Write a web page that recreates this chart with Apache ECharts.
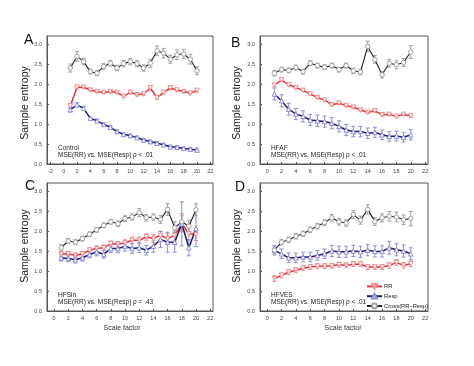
<!DOCTYPE html>
<html lang="en" style="height: 100%">
<head>
  <meta charset="utf-8">
</head>
<body style="height: 100%; margin: 0; background-color:#ffffff;">
  <div id="container" style="width: 474px; height: 366px"></div>

<script src="https://fastly.jsdelivr.net/npm/echarts@6/dist/echarts.min.js"></script>

<script>
  var dom = document.getElementById('container');
  var myChart = echarts.init(dom);

  // scale factors 1..20
  var scales = [1, 2, 3, 4, 5, 6, 7, 8, 9, 10, 11, 12, 13, 14, 15, 16, 17, 18, 19, 20];
  var xTicks = [0, 2, 4, 6, 8, 10, 12, 14, 16, 18, 20, 22];
  var xTicksA = [-2, 0, 2, 4, 6, 8, 10, 12, 14, 16, 18, 20, 22];
  var yTicks = [0, 0.5, 1.0, 1.5, 2.0, 2.5, 3.0];
  var seriesNames = ['RR', 'Resp', 'Cross(RR\u2013Resp)'];
  var panelLetters = ['A', 'B', 'C', 'D'];
  var groupNames = ['Control', 'HFAF', 'HFSin', 'HFVES'];
  var pTexts = ['< .01', '< .01', '= .43', '< .01'];

  // A - Control
  var rrA = [1.45, 1.92, 1.92, 1.85, 1.81, 1.79, 1.81, 1.79, 1.69, 1.79, 1.73, 1.75, 1.90, 1.66, 1.79, 1.90, 1.85, 1.81, 1.77, 1.84];
  var respA = [1.36, 1.48, 1.39, 1.14, 1.08, 0.99, 0.92, 0.81, 0.74, 0.71, 0.66, 0.60, 0.56, 0.52, 0.48, 0.43, 0.42, 0.39, 0.37, 0.35];
  var crossA = [2.40, 2.69, 2.56, 2.31, 2.27, 2.44, 2.52, 2.40, 2.51, 2.56, 2.51, 2.40, 2.52, 2.83, 2.77, 2.62, 2.73, 2.75, 2.62, 2.33];
  var rrErrA = [0.06, 0.04, 0.04, 0.03, 0.03, 0.03, 0.03, 0.03, 0.03, 0.03, 0.03, 0.04, 0.06, 0.04, 0.04, 0.05, 0.04, 0.04, 0.04, 0.04];
  var respErrA = [0.06, 0.05, 0.05, 0.04, 0.04, 0.04, 0.04, 0.04, 0.04, 0.04, 0.04, 0.04, 0.04, 0.04, 0.04, 0.04, 0.04, 0.04, 0.04, 0.05];
  var crossErrA = [0.1, 0.12, 0.08, 0.06, 0.06, 0.07, 0.07, 0.07, 0.08, 0.08, 0.07, 0.08, 0.1, 0.12, 0.12, 0.1, 0.12, 0.12, 0.12, 0.1];

  // B - HFAF
  var rrB = [1.97, 2.10, 1.98, 1.91, 1.84, 1.75, 1.66, 1.60, 1.48, 1.52, 1.46, 1.42, 1.35, 1.29, 1.33, 1.23, 1.24, 1.19, 1.24, 1.20];
  var respB = [1.75, 1.58, 1.37, 1.25, 1.19, 1.10, 1.08, 1.06, 1.02, 0.94, 0.85, 0.81, 0.81, 0.77, 0.79, 0.73, 0.69, 0.70, 0.67, 0.73];
  var crossB = [2.27, 2.36, 2.34, 2.41, 2.31, 2.52, 2.46, 2.42, 2.46, 2.36, 2.46, 2.33, 2.30, 2.94, 2.61, 2.23, 2.52, 2.48, 2.54, 2.80];
  var rrErrB = [0.04, 0.03, 0.03, 0.03, 0.03, 0.03, 0.03, 0.03, 0.03, 0.03, 0.03, 0.03, 0.03, 0.03, 0.03, 0.03, 0.03, 0.03, 0.03, 0.04];
  var respErrB = [0.15, 0.15, 0.15, 0.14, 0.14, 0.14, 0.14, 0.14, 0.14, 0.14, 0.14, 0.13, 0.13, 0.13, 0.13, 0.12, 0.12, 0.12, 0.12, 0.13];
  var crossErrB = [0.07, 0.06, 0.06, 0.06, 0.06, 0.06, 0.06, 0.06, 0.06, 0.06, 0.06, 0.07, 0.07, 0.13, 0.1, 0.08, 0.1, 0.1, 0.1, 0.16];

  // C - HFSin
  var rrC = [1.42, 1.43, 1.39, 1.43, 1.52, 1.56, 1.58, 1.68, 1.67, 1.70, 1.77, 1.77, 1.85, 1.81, 1.89, 1.81, 1.89, 2.18, 1.93, 1.91];
  var respC = [1.33, 1.31, 1.28, 1.33, 1.41, 1.48, 1.42, 1.56, 1.56, 1.62, 1.56, 1.58, 1.52, 1.62, 1.79, 1.72, 1.72, 2.18, 1.58, 2.06];
  var crossC = [1.58, 1.75, 1.72, 1.81, 1.92, 2.03, 2.14, 2.23, 2.18, 2.31, 2.35, 2.46, 2.33, 2.35, 2.29, 2.54, 2.08, 2.23, 2.12, 2.53];
  var rrErrC = [0.06, 0.06, 0.06, 0.06, 0.06, 0.07, 0.07, 0.07, 0.07, 0.08, 0.08, 0.08, 0.08, 0.1, 0.1, 0.12, 0.12, 0.2, 0.15, 0.15];
  var respErrC = [0.08, 0.08, 0.08, 0.08, 0.08, 0.1, 0.1, 0.1, 0.1, 0.12, 0.12, 0.12, 0.12, 0.15, 0.2, 0.25, 0.25, 0.55, 0.2, 0.45];
  var crossErrC = [0.08, 0.06, 0.06, 0.06, 0.06, 0.06, 0.06, 0.06, 0.07, 0.07, 0.08, 0.1, 0.08, 0.08, 0.1, 0.15, 0.15, 0.2, 0.15, 0.15];

  // D - HFVES
  var rrD = [0.81, 0.89, 0.97, 1.02, 1.07, 1.10, 1.12, 1.12, 1.13, 1.16, 1.14, 1.17, 1.17, 1.10, 1.10, 1.10, 1.14, 1.21, 1.14, 1.18];
  var respD = [1.52, 1.43, 1.33, 1.33, 1.35, 1.35, 1.39, 1.43, 1.50, 1.48, 1.48, 1.50, 1.48, 1.52, 1.49, 1.49, 1.58, 1.53, 1.50, 1.43];
  var crossD = [1.52, 1.72, 1.78, 1.87, 1.93, 2.03, 2.12, 2.21, 2.33, 2.23, 2.20, 2.41, 2.27, 2.54, 2.24, 2.33, 2.37, 2.35, 2.28, 2.31];
  var rrErrD = [0.07, 0.06, 0.06, 0.06, 0.06, 0.06, 0.06, 0.06, 0.06, 0.06, 0.06, 0.06, 0.06, 0.06, 0.06, 0.06, 0.07, 0.07, 0.07, 0.07];
  var respErrD = [0.12, 0.12, 0.12, 0.12, 0.12, 0.12, 0.12, 0.12, 0.14, 0.14, 0.14, 0.14, 0.14, 0.14, 0.14, 0.14, 0.16, 0.15, 0.15, 0.15];
  var crossErrD = [0.08, 0.07, 0.07, 0.07, 0.07, 0.07, 0.07, 0.07, 0.08, 0.08, 0.08, 0.1, 0.1, 0.12, 0.1, 0.1, 0.12, 0.12, 0.12, 0.18];

  var panels = [
    { rr: rrA, resp: respA, cross: crossA, rrErr: rrErrA, respErr: respErrA, crossErr: crossErrA },
    { rr: rrB, resp: respB, cross: crossB, rrErr: rrErrB, respErr: respErrB, crossErr: crossErrB },
    { rr: rrC, resp: respC, cross: crossC, rrErr: rrErrC, respErr: respErrC, crossErr: crossErrC },
    { rr: rrD, resp: respD, cross: crossD, rrErr: rrErrD, respErr: respErrD, crossErr: crossErrD }
  ];

  var grids = [
    { left: 47, top: 36, width: 166, height: 128 },
    { left: 260, top: 36, width: 168, height: 128 },
    { left: 47, top: 183, width: 166, height: 128 },
    { left: 260, top: 183, width: 168, height: 128 }
  ];

  var lineColors = ['#e8323c', '#1c1c6e', '#222222'];
  var markColors = ['#f08c90', '#8c8ce0', '#a0a0a0'];
  var symbols = ['path://M0,0 L10,0 L5,9 Z', 'triangle', 'circle'];
  var font = 'Liberation Sans';

  function errSeries(idx, vals, errs, color) {
    return {
      type: 'custom',
      xAxisIndex: idx,
      yAxisIndex: idx,
      z: 1,
      silent: true,
      data: scales.map(function (x, k) { return [x, vals[k] - errs[k], vals[k] + errs[k]]; }),
      renderItem: function (params, api) {
        var lo = api.coord([api.value(0), api.value(1)]);
        var hi = api.coord([api.value(0), api.value(2)]);
        var w = 2;
        var st = { stroke: color, lineWidth: 1 };
        return {
          type: 'group',
          children: [
            { type: 'line', shape: { x1: lo[0], y1: lo[1], x2: hi[0], y2: hi[1] }, style: st },
            { type: 'line', shape: { x1: lo[0] - w, y1: lo[1], x2: lo[0] + w, y2: lo[1] }, style: st },
            { type: 'line', shape: { x1: hi[0] - w, y1: hi[1], x2: hi[0] + w, y2: hi[1] }, style: st }
          ]
        };
      }
    };
  }

  var series = [];
  panels.forEach(function (p, i) {
    var vals = [p.rr, p.resp, p.cross];
    var errs = [p.rrErr, p.respErr, p.crossErr];
    for (var s = 0; s < 3; s++) {
      series.push(errSeries(i, vals[s], errs[s], markColors[s]));
    }
    for (var s2 = 0; s2 < 3; s2++) {
      series.push({
        name: seriesNames[s2],
        type: 'line',
        xAxisIndex: i,
        yAxisIndex: i,
        z: 3,
        symbol: symbols[s2],
        symbolSize: 4.5,
        showAllSymbol: true,
        lineStyle: { color: lineColors[s2], width: s2 === 2 ? 1.1 : 1.5 },
        itemStyle: { color: '#ffffff', borderColor: markColors[s2], borderWidth: 1 },
        data: scales.map(function (x, k) { return [x, vals[s2][k]]; })
      });
    }
  });

  var xAxes = grids.map(function (g, i) {
    var ticks = i === 0 ? xTicksA : xTicks;
    return {
      type: 'value',
      gridIndex: i,
      min: i === 0 ? -2.5 : -1,
      max: 22.4,
      axisLine: { onZero: false, lineStyle: { color: '#555' } },
      axisTick: { customValues: ticks, inside: true, length: 2, lineStyle: { color: '#555' } },
      axisLabel: { customValues: ticks, fontSize: 5.5, color: '#444', margin: 4, fontFamily: font },
      splitLine: { show: false }
    };
  });

  var yAxes = grids.map(function (g, i) {
    return {
      type: 'value',
      gridIndex: i,
      min: 0,
      max: 3.2,
      axisLine: { onZero: false, lineStyle: { color: '#555' } },
      axisTick: { customValues: yTicks, inside: true, length: 2, lineStyle: { color: '#555' } },
      axisLabel: {
        customValues: yTicks, fontSize: 5.5, color: '#444', margin: 5, fontFamily: font,
        formatter: function (v) { return v.toFixed(1); }
      },
      splitLine: { show: false }
    };
  });

  var graphics = [];
  var letterPos = [[29, 40], [236, 43], [30, 186], [240, 187]];
  var ylabPos = [[25, 103], [237, 103], [25, 246], [237, 246]];
  grids.forEach(function (g, i) {
    graphics.push({
      type: 'text', left: letterPos[i][0] - 5, top: letterPos[i][1] - 7,
      style: { text: panelLetters[i], fontSize: 14, fill: '#111', fontFamily: font }
    });
    graphics.push({
      type: 'text', x: ylabPos[i][0], y: ylabPos[i][1], rotation: Math.PI / 2,
      style: { text: 'Sample entropy', fontSize: 10.5, fill: '#222', fontFamily: font, align: 'center', verticalAlign: 'middle' }
    });
    var bottom = g.top + g.height;
    graphics.push({
      type: 'text', x: g.left + 11, y: bottom - 16,
      style: { text: groupNames[i], fontSize: 6.5, fill: '#222', fontFamily: font, verticalAlign: 'middle' }
    });
    graphics.push({
      type: 'text', x: g.left + 11, y: bottom - 9,
      style: {
        text: 'MSE(RR) vs. MSE(Resp) {i|p} ' + pTexts[i],
        fontSize: 6.5, fill: '#222', fontFamily: font, verticalAlign: 'middle',
        rich: { i: { fontStyle: 'italic', fontSize: 6.5, fontFamily: font, fill: '#222' } }
      }
    });
  });
  graphics.push({
    type: 'text', x: 122, y: 328,
    style: { text: 'Scale factor', fontSize: 7, fill: '#333', fontFamily: font, align: 'center', verticalAlign: 'middle' }
  });
  graphics.push({
    type: 'text', x: 343, y: 328,
    style: { text: 'Scale factor', fontSize: 7, fill: '#333', fontFamily: font, align: 'center', verticalAlign: 'middle' }
  });

  var option = {
    animation: false,
    grid: grids.map(function (g) {
      return { left: g.left, top: g.top, width: g.width, height: g.height, show: true, borderColor: '#555', borderWidth: 1, backgroundColor: '#fff' };
    }),
    xAxis: xAxes,
    yAxis: yAxes,
    legend: {
      data: seriesNames,
      orient: 'vertical',
      left: 366,
      top: 283,
      itemWidth: 15,
      itemHeight: 6,
      itemGap: 3,
      padding: 0,
      textStyle: { fontSize: 5.8, color: '#222', fontFamily: font, padding: [0, 0, 0, -3] }
    },
    series: series,
    graphic: graphics
  };

  myChart.setOption(option);

  window.addEventListener('resize', myChart.resize);
</script>

</body>
</html>
